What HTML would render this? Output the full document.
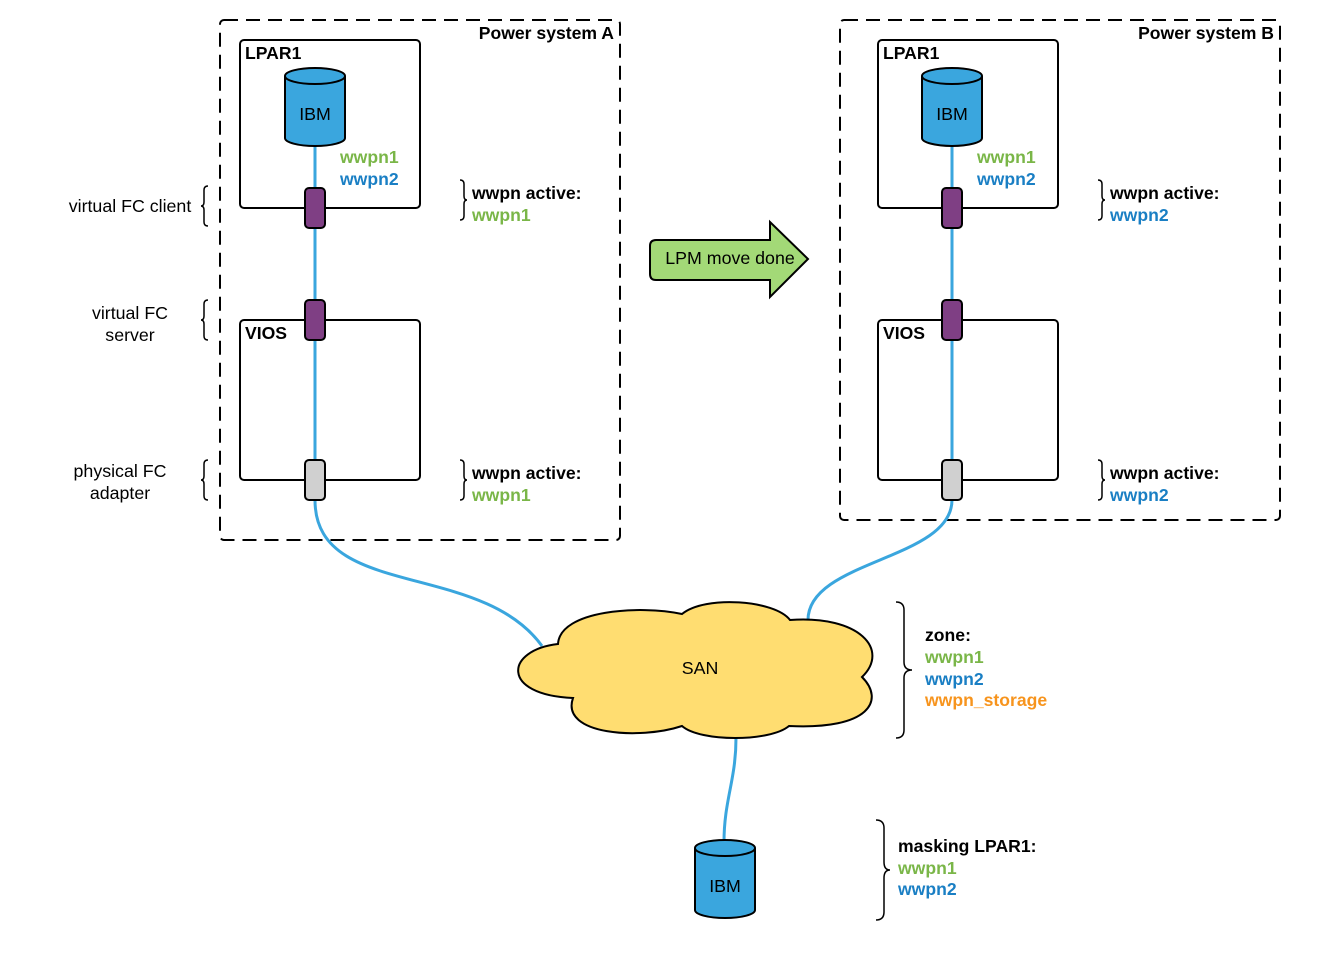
<!DOCTYPE html>
<html><head><meta charset="utf-8"><style>body{margin:0;background:#fff}svg{display:block}text{font-family:"Liberation Sans",sans-serif;font-size:17.8px}.b{font-weight:bold;font-size:17.6px}.g{fill:#7ab648}.bl{fill:#1a7fc4}.o{fill:#f7941d}</style></head><body>
<svg width="1320" height="960" viewBox="0 0 1320 960" xmlns="http://www.w3.org/2000/svg">
<g fill="none" stroke="#000" stroke-width="2">
<rect x="220" y="20" width="400" height="520" rx="4" stroke-dasharray="14 8"/>
<rect x="840" y="20" width="440" height="500" rx="4" stroke-dasharray="14 8"/>
<rect x="240" y="40" width="180" height="168" rx="4"/>
<rect x="240" y="320" width="180" height="160" rx="4"/>
<rect x="878" y="40" width="180" height="168" rx="4"/>
<rect x="878" y="320" width="180" height="160" rx="4"/>
</g>
<g fill="none" stroke="#3aa6de" stroke-width="3">
<line x1="315" y1="145" x2="315" y2="470"/>
<line x1="952" y1="145" x2="952" y2="470"/>
<path d="M315 500 C315 600 480 560 542 646"/>
<path d="M952 500 C952 560 808 560 808 620"/>
<path d="M736 738 C736 780 724 800 724 842"/>
</g>
<g stroke="#000" stroke-width="2" fill="#3aa6de">
<path d="M285 76 v62 a30 8 0 0 0 60 0 v-62"/><ellipse cx="315" cy="76" rx="30" ry="8"/>
<path d="M922 76 v62 a30 8 0 0 0 60 0 v-62"/><ellipse cx="952" cy="76" rx="30" ry="8"/>
<path d="M695 848 v62 a30 8 0 0 0 60 0 v-62"/><ellipse cx="725" cy="848" rx="30" ry="8"/>
</g>
<g stroke="#000" stroke-width="2">
<rect x="305" y="188" width="20" height="40" rx="4" fill="#7f3f84"/>
<rect x="305" y="300" width="20" height="40" rx="4" fill="#7f3f84"/>
<rect x="305" y="460" width="20" height="40" rx="4" fill="#d0d0d0"/>
<rect x="942" y="188" width="20" height="40" rx="4" fill="#7f3f84"/>
<rect x="942" y="300" width="20" height="40" rx="4" fill="#7f3f84"/>
<rect x="942" y="460" width="20" height="40" rx="4" fill="#d0d0d0"/>
</g>
<path d="M656 240 H770 V222 L808 259 L770 297 V280 H656 Q650 280 650 274 V246 Q650 240 656 240 Z" fill="#a3d977" stroke="#000" stroke-width="2"/>
<path d="M558 644 C560 610 640 605 682 614 C705 595 775 600 790 620 C860 615 890 650 862 677 C885 700 870 730 789 726 C770 742 700 742 682 726 C640 740 560 735 573 698 C500 695 505 650 558 644 Z" fill="#ffdd71" stroke="#000" stroke-width="2"/>
<g fill="none" stroke="#000" stroke-width="1.5">
<path d="M208 186 q-4 0 -4 4 v12 q0 4 -3 4 q3 0 3 4 v12 q0 4 4 4"/>
<path d="M208 300 q-4 0 -4 4 v12 q0 4 -3 4 q3 0 3 4 v12 q0 4 4 4"/>
<path d="M208 460 q-4 0 -4 4 v12 q0 4 -3 4 q3 0 3 4 v12 q0 4 4 4"/>
<path d="M460 180 q4 0 4 4 v12 q0 4 3 4 q-3 0 -3 4 v12 q0 4 -4 4"/>
<path d="M460 460 q4 0 4 4 v12 q0 4 3 4 q-3 0 -3 4 v12 q0 4 -4 4"/>
<path d="M1098 180 q4 0 4 4 v12 q0 4 3 4 q-3 0 -3 4 v12 q0 4 -4 4"/>
<path d="M1098 460 q4 0 4 4 v12 q0 4 3 4 q-3 0 -3 4 v12 q0 4 -4 4"/>
<path d="M896 602 q8 0 8 8 v52 q0 8 8 8 q-8 0 -8 8 v52 q0 8 -8 8"/>
<path d="M876 820 q8 0 8 8 v34 q0 8 6 8 q-6 0 -6 8 v34 q0 8 -8 8"/>
</g>
<text class="b" x="614" y="39" text-anchor="end">Power system A</text>
<text class="b" x="1274" y="39" text-anchor="end">Power system B</text>
<text class="b" x="245" y="59">LPAR1</text>
<text class="b" x="883" y="59">LPAR1</text>
<text class="b" x="245" y="339">VIOS</text>
<text class="b" x="883" y="339">VIOS</text>
<text x="315" y="120" text-anchor="middle">IBM</text>
<text x="952" y="120" text-anchor="middle">IBM</text>
<text x="725" y="892" text-anchor="middle">IBM</text>
<text class="b g" x="340" y="163">wwpn1</text><text class="b bl" x="340" y="185">wwpn2</text>
<text class="b g" x="977" y="163">wwpn1</text><text class="b bl" x="977" y="185">wwpn2</text>
<text class="b" x="472" y="199">wwpn active:</text><text class="b g" x="472" y="221">wwpn1</text>
<text class="b" x="472" y="479">wwpn active:</text><text class="b g" x="472" y="501">wwpn1</text>
<text class="b" x="1110" y="199">wwpn active:</text><text class="b bl" x="1110" y="221">wwpn2</text>
<text class="b" x="1110" y="479">wwpn active:</text><text class="b bl" x="1110" y="501">wwpn2</text>
<text x="130" y="212" text-anchor="middle">virtual FC client</text>
<text x="130" y="319" text-anchor="middle">virtual FC</text><text x="130" y="341" text-anchor="middle">server</text>
<text x="120" y="477" text-anchor="middle">physical FC</text><text x="120" y="499" text-anchor="middle">adapter</text>
<text x="730" y="264" text-anchor="middle">LPM move done</text>
<text x="700" y="674" text-anchor="middle">SAN</text>
<text class="b" x="925" y="641">zone:</text>
<text class="b g" x="925" y="663">wwpn1</text>
<text class="b bl" x="925" y="685">wwpn2</text>
<text class="b o" x="925" y="706">wwpn_storage</text>
<text class="b" x="898" y="852">masking LPAR1:</text>
<text class="b g" x="898" y="874">wwpn1</text>
<text class="b bl" x="898" y="895">wwpn2</text>
</svg>
</body></html>
